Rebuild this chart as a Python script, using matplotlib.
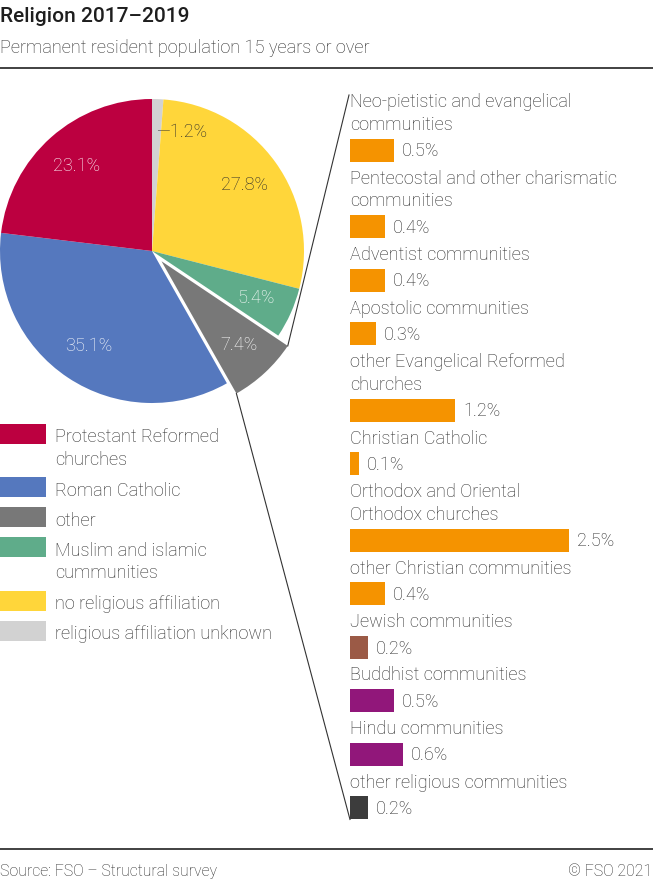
import numpy as np
import matplotlib
matplotlib.use("Agg")
import matplotlib.pyplot as plt
from matplotlib.patches import Rectangle

plt.rcParams['font.family'] = ['Roboto', 'DejaVu Sans']

# main religions (pie, clockwise from the top)
pie_labels = ["religious affiliation unknown", "no religious affiliation",
              "Muslim and islamic\ncummunities", "other", "Roman Catholic",
              "Protestant Reformed\nchurches"]
pie_values = [1.2, 27.8, 5.4, 7.4, 35.1, 23.1]
pie_colors = ["#d2d2d2", "#ffd63a", "#5fac8a", "#787878", "#5578be", "#bc0040"]
pie_text_colors = ["#2a2a2a", "#2a2a2a", "white", "white", "white", "white"]

# breakdown of "other"
bar_labels = ["Neo-pietistic and evangelical\ncommunities",
              "Pentecostal and other charismatic\ncommunities",
              "Adventist communities",
              "Apostolic communities",
              "other Evangelical Reformed\nchurches",
              "Christian Catholic",
              "Orthodox and Oriental\nOrthodox churches",
              "other Christian communities",
              "Jewish communities",
              "Buddhist communities",
              "Hindu communities",
              "other religious communities"]
bar_values = [0.5, 0.4, 0.4, 0.3, 1.2, 0.1, 2.5, 0.4, 0.2, 0.5, 0.6, 0.2]
bar_colors = ["#f59300"] * 8 + ["#9b5a46", "#91177a", "#91177a", "#3c3c3c"]

TXT = "#2a2a2a"
FS = 13.1
W, H = 653, 880
fig = plt.figure(figsize=(W / 100, H / 100), dpi=100)

# pie
pie_ax = fig.add_axes([0, (H - 403) / H, 304 / W, 304 / H])
explode = [0.092 if l == "other" else 0 for l in pie_labels]
wedges, _, autotexts = pie_ax.pie(pie_values, colors=pie_colors, startangle=90,
                                  counterclock=False, explode=explode,
                                  autopct=lambda p: f"{p:.1f}%", pctdistance=0.75,
                                  wedgeprops=dict(linewidth=0),
                                  textprops=dict(fontsize=FS, fontweight='light'))
for t, c in zip(autotexts, pie_text_colors):
    t.set_color(c)
autotexts[0].set_visible(False)
pie_ax.set_xlim(-1, 1)
pie_ax.set_ylim(-1, 1)
for w in wedges:
    w.set_clip_on(False)

# overlay for texts and rules, in pixel units
ov = fig.add_axes([0, 0, 1, 1])
ov.set_xlim(0, W)
ov.set_ylim(H, 0)
ov.axis('off')

ov.text(0, 22, "Religion 2017\u20132019", fontsize=15, fontweight='medium', color="#1e1e1e")
ov.text(0, 53, "Permanent resident population 15 years or over", fontsize=FS,
        fontweight='light', color=TXT)
ov.plot([0, W], [68, 68], color="#333333", lw=1.3)
ov.plot([0, W], [849, 849], color="#333333", lw=1.3)
ov.text(0, 876, "Source: FSO \u2013 Structural survey", fontsize=11.4, fontweight='light', color=TXT)
ov.text(W - 1, 876, "\u00a9 FSO 2021", fontsize=11.4, fontweight='light', color=TXT, ha='right')

ov.text(156, 137, "\u2014" + f"{pie_values[0]:.1f}%", fontsize=FS, fontweight='light', color=TXT)

# legend (reverse of pie order)
y = 424
for lab, col in zip(pie_labels[::-1], pie_colors[::-1]):
    ov.add_patch(Rectangle((0, y), 46, 20, color=col, lw=0))
    lines = lab.split("\n")
    for k, line in enumerate(lines):
        ov.text(55, y + 18 + 23 * k, line, fontsize=FS, fontweight='light', color=TXT)
    y += 30 + 23.5 * (len(lines) - 1)

# bars
bar_ax = fig.add_axes([350 / W, 0, 262.5 / W, 1])
bar_ax.set_xlim(0, 3)
bar_ax.set_ylim(H, 0)
bar_ax.axis('off')
centers = []
top = 95
for lab in bar_labels:
    n = len(lab.split("\n"))
    centers.append(top + 12 + 23 * (n - 1) + 9 + 11.5)
    top += 30.5 + 23 * n
bar_ax.barh(centers, bar_values, height=23, color=bar_colors, linewidth=0)
for lab, v, c in zip(bar_labels, bar_values, centers):
    lines = lab.split("\n")
    for k, line in enumerate(lines):
        bar_ax.text(0, c - 20.5 - 23 * (len(lines) - 1 - k), line, fontsize=FS,
                    fontweight='light', color=TXT)
    bar_ax.text(v + 8 / 87.5, c + 6, f"{v:.1f}%", fontsize=FS, fontweight='light', color=TXT)

# connector lines from the exploded wedge to the breakdown
w = wedges[pie_labels.index("other")]
cx, cy = w.center
to_px = pie_ax.transData + ov.transData.inverted()
p1 = to_px.transform((cx + w.r * np.cos(np.radians(w.theta2)), cy + w.r * np.sin(np.radians(w.theta2))))
p2 = to_px.transform((cx + w.r * np.cos(np.radians(w.theta1)), cy + w.r * np.sin(np.radians(w.theta1))))
bar_to_px = bar_ax.transData + ov.transData.inverted()
q1 = bar_to_px.transform((0, 95))
q2 = bar_to_px.transform((0, centers[-1] + 11.5))
ov.plot([p1[0], q1[0] - 1], [p1[1], q1[1]], color="#333333", lw=0.8)
ov.plot([p2[0], q2[0]], [p2[1], q2[1]], color="#333333", lw=0.8)

fig.savefig("out.png", dpi=100, facecolor="white")
